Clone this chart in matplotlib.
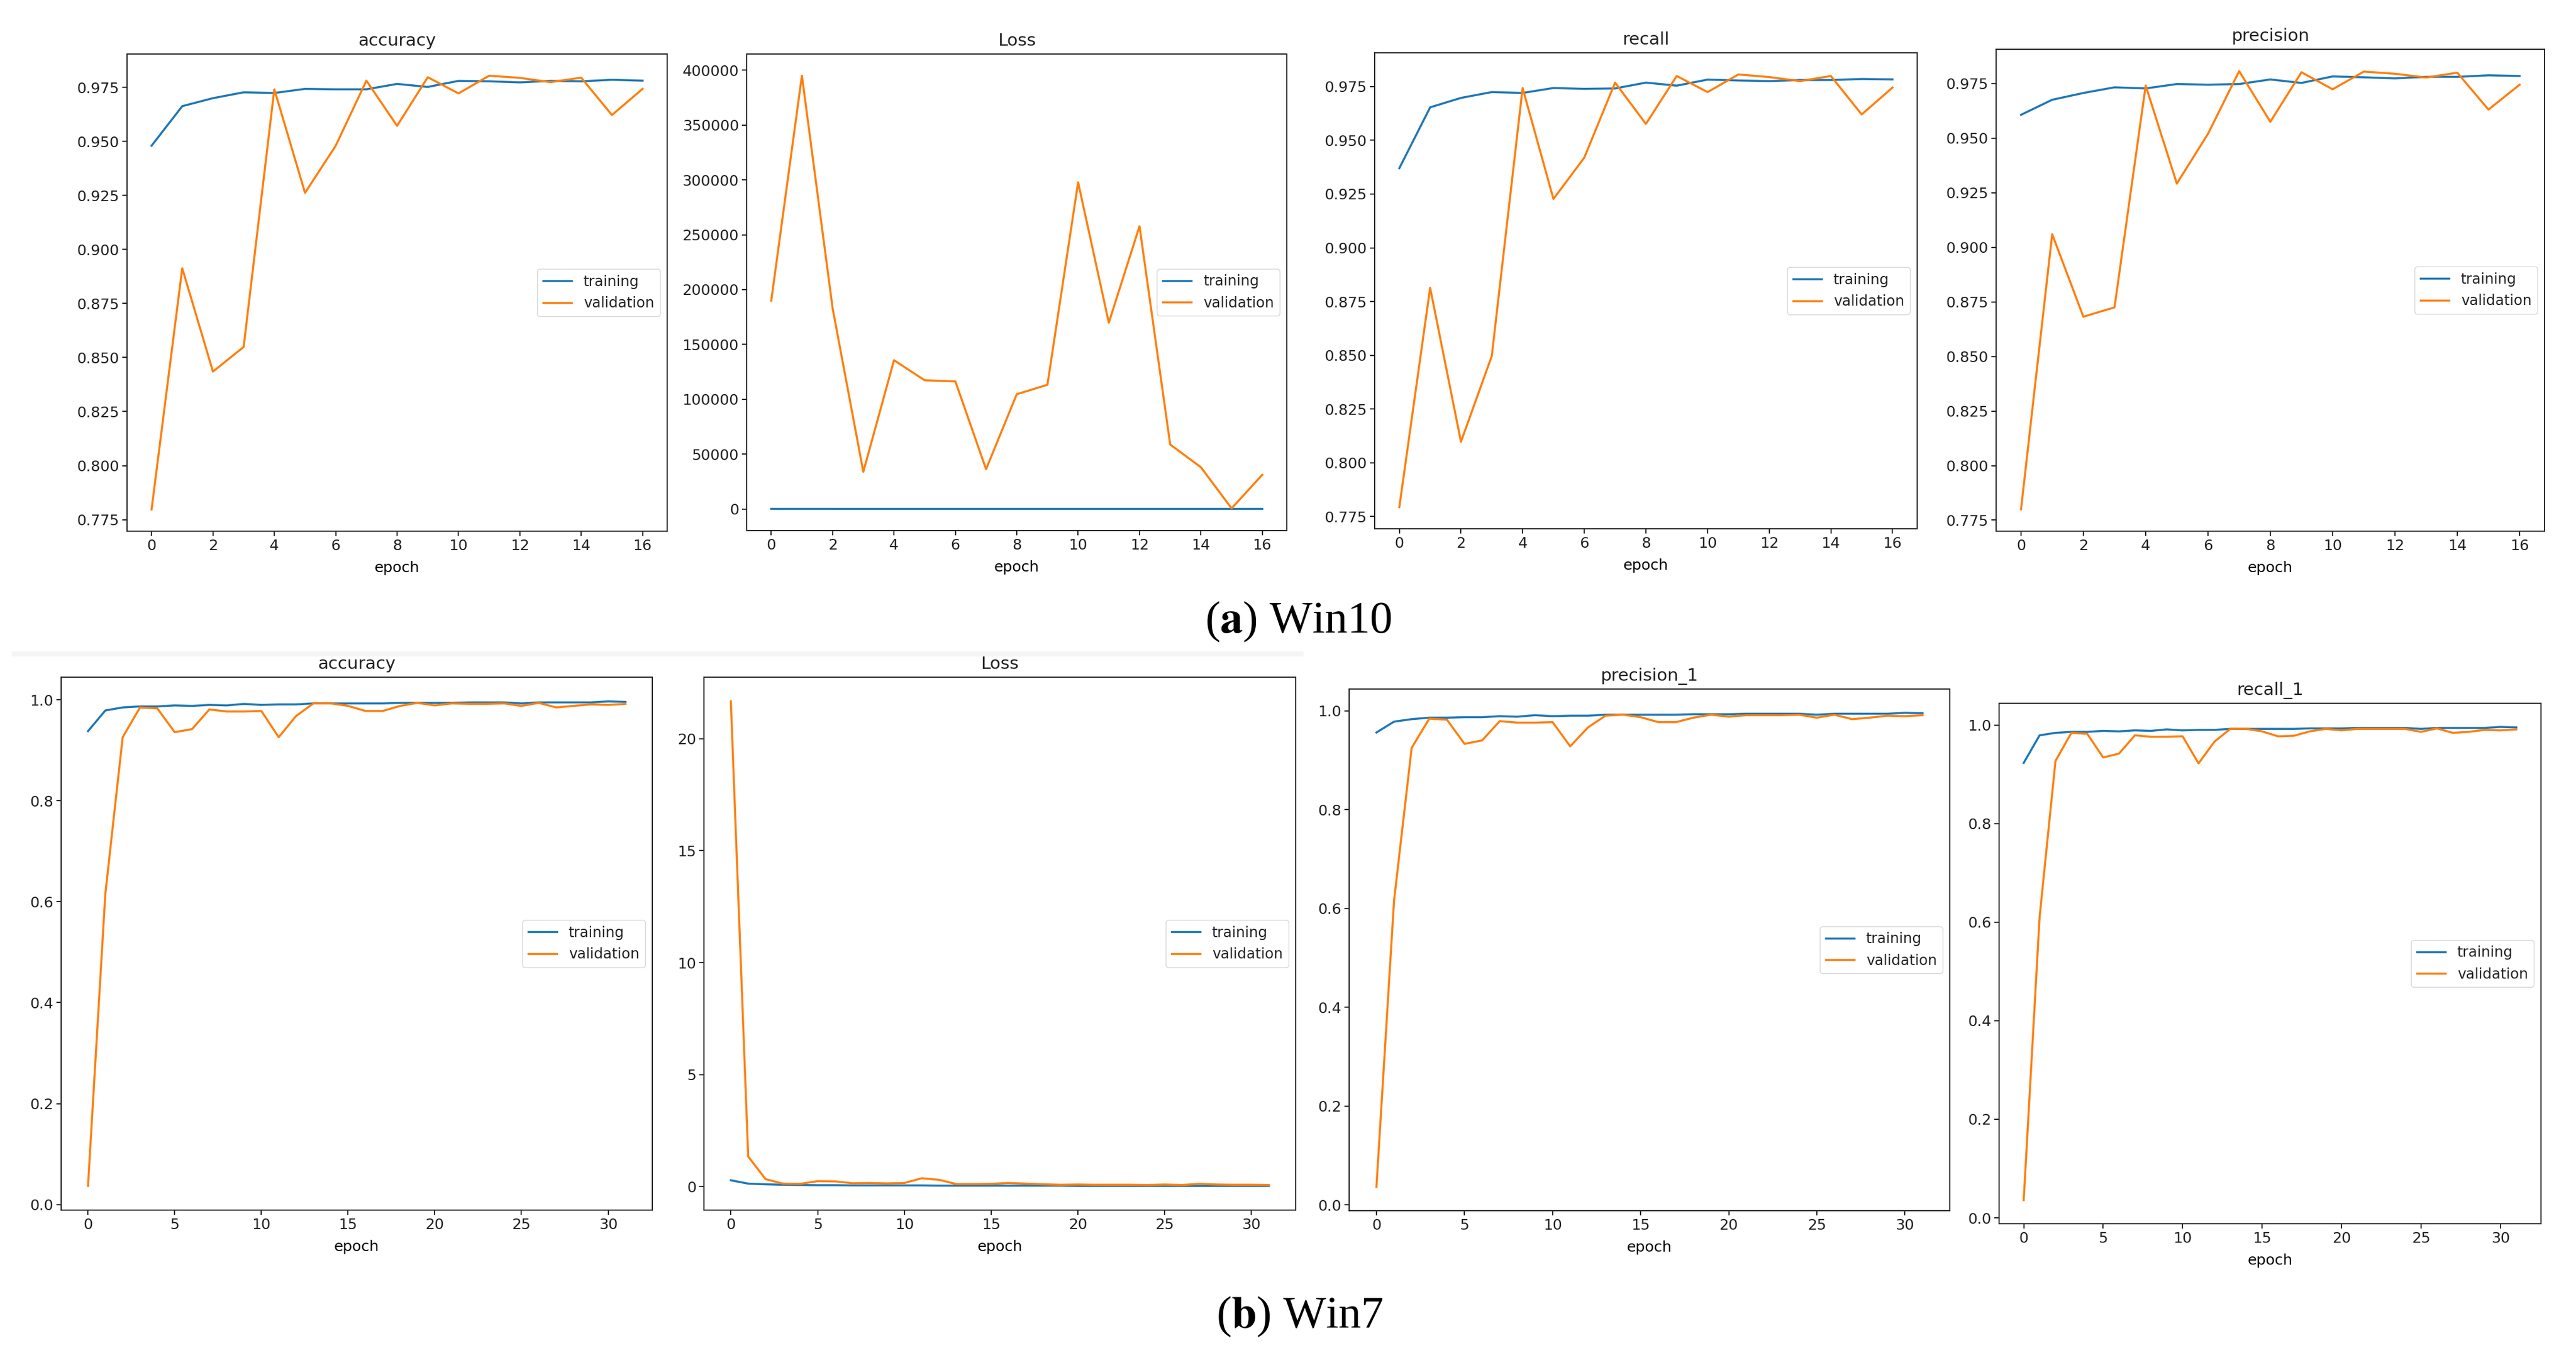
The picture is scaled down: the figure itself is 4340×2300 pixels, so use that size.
import matplotlib
matplotlib.use("Agg")
import matplotlib.pyplot as plt
from matplotlib.patches import Rectangle

# ---- data: Win10 (17 epochs) ----
epochs_w10 = list(range(17))
acc_train_w10 = [0.948, 0.9663, 0.970, 0.9727, 0.9724, 0.9743, 0.9741, 0.9741, 0.9766,
                 0.9752, 0.978, 0.9778, 0.9773, 0.978, 0.9778, 0.9785, 0.9781]
acc_val_w10 = [0.7797, 0.8913, 0.8435, 0.8549, 0.9741, 0.9262, 0.948, 0.9781, 0.9572,
               0.9797, 0.9722, 0.9804, 0.9794, 0.9774, 0.9795, 0.9622, 0.9743]
loss_train_w10 = [0.35, 0.2, 0.16, 0.14, 0.13, 0.12, 0.12, 0.11, 0.1,
                  0.1, 0.09, 0.09, 0.09, 0.08, 0.08, 0.08, 0.08]
loss_val_w10 = [189800, 395100, 183000, 33800, 135600, 117300, 116300, 36200, 104600,
                113200, 297800, 169800, 257800, 58700, 38000, 500, 31100]
rec_train_w10 = [0.937, 0.9653, 0.9697, 0.9724, 0.972, 0.9743, 0.9739, 0.9741, 0.9768,
                 0.9754, 0.9782, 0.9778, 0.9775, 0.978, 0.978, 0.9785, 0.9783]
rec_val_w10 = [0.7794, 0.8814, 0.8098, 0.8497, 0.9743, 0.9227, 0.9419, 0.9768, 0.9576,
               0.9799, 0.9724, 0.9806, 0.9794, 0.9775, 0.9799, 0.962, 0.9745]
prec_train_w10 = [0.9607, 0.9676, 0.9707, 0.9733, 0.9728, 0.9748, 0.9745, 0.9748, 0.9769,
                  0.9753, 0.9783, 0.9779, 0.9774, 0.9781, 0.9781, 0.9788, 0.9785]
prec_val_w10 = [0.780, 0.906, 0.8682, 0.8725, 0.9741, 0.9292, 0.952, 0.9807, 0.9575,
                0.9802, 0.9724, 0.9805, 0.9795, 0.9778, 0.980, 0.9631, 0.9745]

# ---- data: Win7 (32 epochs) ----
epochs_w7 = list(range(32))
acc_train_w7 = [0.938, 0.979, 0.985, 0.987, 0.987, 0.989, 0.988, 0.990, 0.989, 0.992,
                0.990, 0.991, 0.991, 0.993, 0.993, 0.993, 0.993, 0.993, 0.994, 0.994,
                0.994, 0.994, 0.995, 0.995, 0.995, 0.993, 0.995, 0.995, 0.995, 0.995,
                0.997, 0.996]
acc_val_w7 = [0.037, 0.616, 0.926, 0.985, 0.983, 0.936, 0.942, 0.981, 0.977, 0.977,
              0.978, 0.926, 0.968, 0.993, 0.993, 0.988, 0.978, 0.978, 0.988, 0.994,
              0.989, 0.993, 0.992, 0.992, 0.993, 0.988, 0.994, 0.985, 0.988, 0.991,
              0.990, 0.992]
loss_train_w7 = [0.28, 0.13, 0.10, 0.08, 0.07, 0.06, 0.06, 0.05, 0.05, 0.05,
                 0.05, 0.05, 0.04, 0.04, 0.04, 0.04, 0.04, 0.04, 0.04, 0.04,
                 0.03, 0.03, 0.03, 0.03, 0.03, 0.03, 0.03, 0.03, 0.03, 0.03,
                 0.03, 0.03]
loss_val_w7 = [21.67, 1.34, 0.33, 0.13, 0.12, 0.24, 0.23, 0.15, 0.16, 0.14,
               0.16, 0.37, 0.30, 0.11, 0.11, 0.12, 0.16, 0.13, 0.10, 0.08,
               0.09, 0.08, 0.08, 0.08, 0.07, 0.09, 0.07, 0.12, 0.09, 0.08,
               0.08, 0.07]
prec_train_w7 = [0.956, 0.978, 0.983, 0.986, 0.986, 0.987, 0.987, 0.989, 0.988, 0.991,
                 0.989, 0.990, 0.990, 0.992, 0.992, 0.992, 0.992, 0.992, 0.993, 0.993,
                 0.993, 0.994, 0.994, 0.994, 0.994, 0.992, 0.994, 0.994, 0.994, 0.994,
                 0.996, 0.995]
prec_val_w7 = [0.036, 0.616, 0.925, 0.984, 0.982, 0.933, 0.940, 0.979, 0.976, 0.976,
               0.977, 0.928, 0.966, 0.990, 0.992, 0.987, 0.977, 0.977, 0.986, 0.992,
               0.988, 0.991, 0.991, 0.991, 0.992, 0.986, 0.992, 0.983, 0.986, 0.990,
               0.989, 0.991]
rec_train_w7 = [0.923, 0.979, 0.984, 0.986, 0.986, 0.988, 0.987, 0.989, 0.988, 0.991,
                0.989, 0.990, 0.990, 0.992, 0.992, 0.992, 0.992, 0.992, 0.993, 0.993,
                0.993, 0.994, 0.994, 0.994, 0.994, 0.992, 0.994, 0.994, 0.994, 0.994,
                0.996, 0.995]
rec_val_w7 = [0.036, 0.610, 0.927, 0.984, 0.982, 0.934, 0.942, 0.979, 0.976, 0.976,
              0.977, 0.922, 0.966, 0.992, 0.992, 0.987, 0.977, 0.978, 0.987, 0.992,
              0.989, 0.992, 0.992, 0.992, 0.992, 0.986, 0.993, 0.984, 0.986, 0.990,
              0.989, 0.991]

W, H = 4340, 2300
plt.rcParams.update({
    "font.family": "DejaVu Sans",
    "font.size": 18,
    "axes.titlesize": 21,
    "axes.labelsize": 18,
    "xtick.labelsize": 18,
    "ytick.labelsize": 18,
    "legend.fontsize": 17.5,
    "lines.linewidth": 2.5,
    "axes.linewidth": 1.4,
    "xtick.major.size": 6,
    "ytick.major.size": 6,
    "xtick.major.width": 1.4,
    "ytick.major.width": 1.4,
    "axes.edgecolor": "#222222",
    "text.color": "#222222",
    "xtick.color": "#222222",
    "ytick.color": "#222222",
})

fig = plt.figure(figsize=(W / 100, H / 100), dpi=100)


def panel(box, title, x, train, val):
    # box given as pixel edges: left, top, right, bottom
    l, t, r, b = box
    ax = fig.add_axes([l / W, 1 - b / H, (r - l) / W, (b - t) / H])
    ax.plot(x, train, color="#1f77b4", label="training")
    ax.plot(x, val, color="#ff7f0e", label="validation")
    ax.set_title(title, pad=10)
    ax.set_xlabel("epoch", labelpad=9)
    ax.legend(loc="center right")
    return ax


# faint screenshot border above the Win7 row
fig.patches.append(Rectangle((20 / W, 1 - 1105 / H), 2175 / W, 7 / H,
                             transform=fig.transFigure, color="#f5f5f5", zorder=0))

panel((214, 91, 1124, 895), "accuracy", epochs_w10, acc_train_w10, acc_val_w10)
panel((1258, 91, 2168, 894), "Loss", epochs_w10, loss_train_w10, loss_val_w10)
panel((2316, 89, 3230, 891), "recall", epochs_w10, rec_train_w10, rec_val_w10)
panel((3363, 83, 4287, 895), "precision", epochs_w10, prec_train_w10, prec_val_w10)

panel((103, 1141, 1099, 2039), "accuracy", epochs_w7, acc_train_w7, acc_val_w7)
panel((1186, 1141, 2183, 2039), "Loss", epochs_w7, loss_train_w7, loss_val_w7)
panel((2273, 1161, 3285, 2040), "precision_1", epochs_w7, prec_train_w7, prec_val_w7)
panel((3368, 1185, 4281, 2062), "recall_1", epochs_w7, rec_train_w7, rec_val_w7)

serif = ["Liberation Serif", "DejaVu Serif"]
fig.text(2188 / W, 1 - 1066 / H, r"($\mathbf{a}$) Win10", ha="center", va="baseline",
         fontsize=55, family=serif, color="black", math_fontfamily="stix")
fig.text(2190 / W, 1 - 2237 / H, r"($\mathbf{b}$) Win7", ha="center", va="baseline",
         fontsize=55, family=serif, color="black", math_fontfamily="stix")

fig.savefig("out.png", dpi=100)
